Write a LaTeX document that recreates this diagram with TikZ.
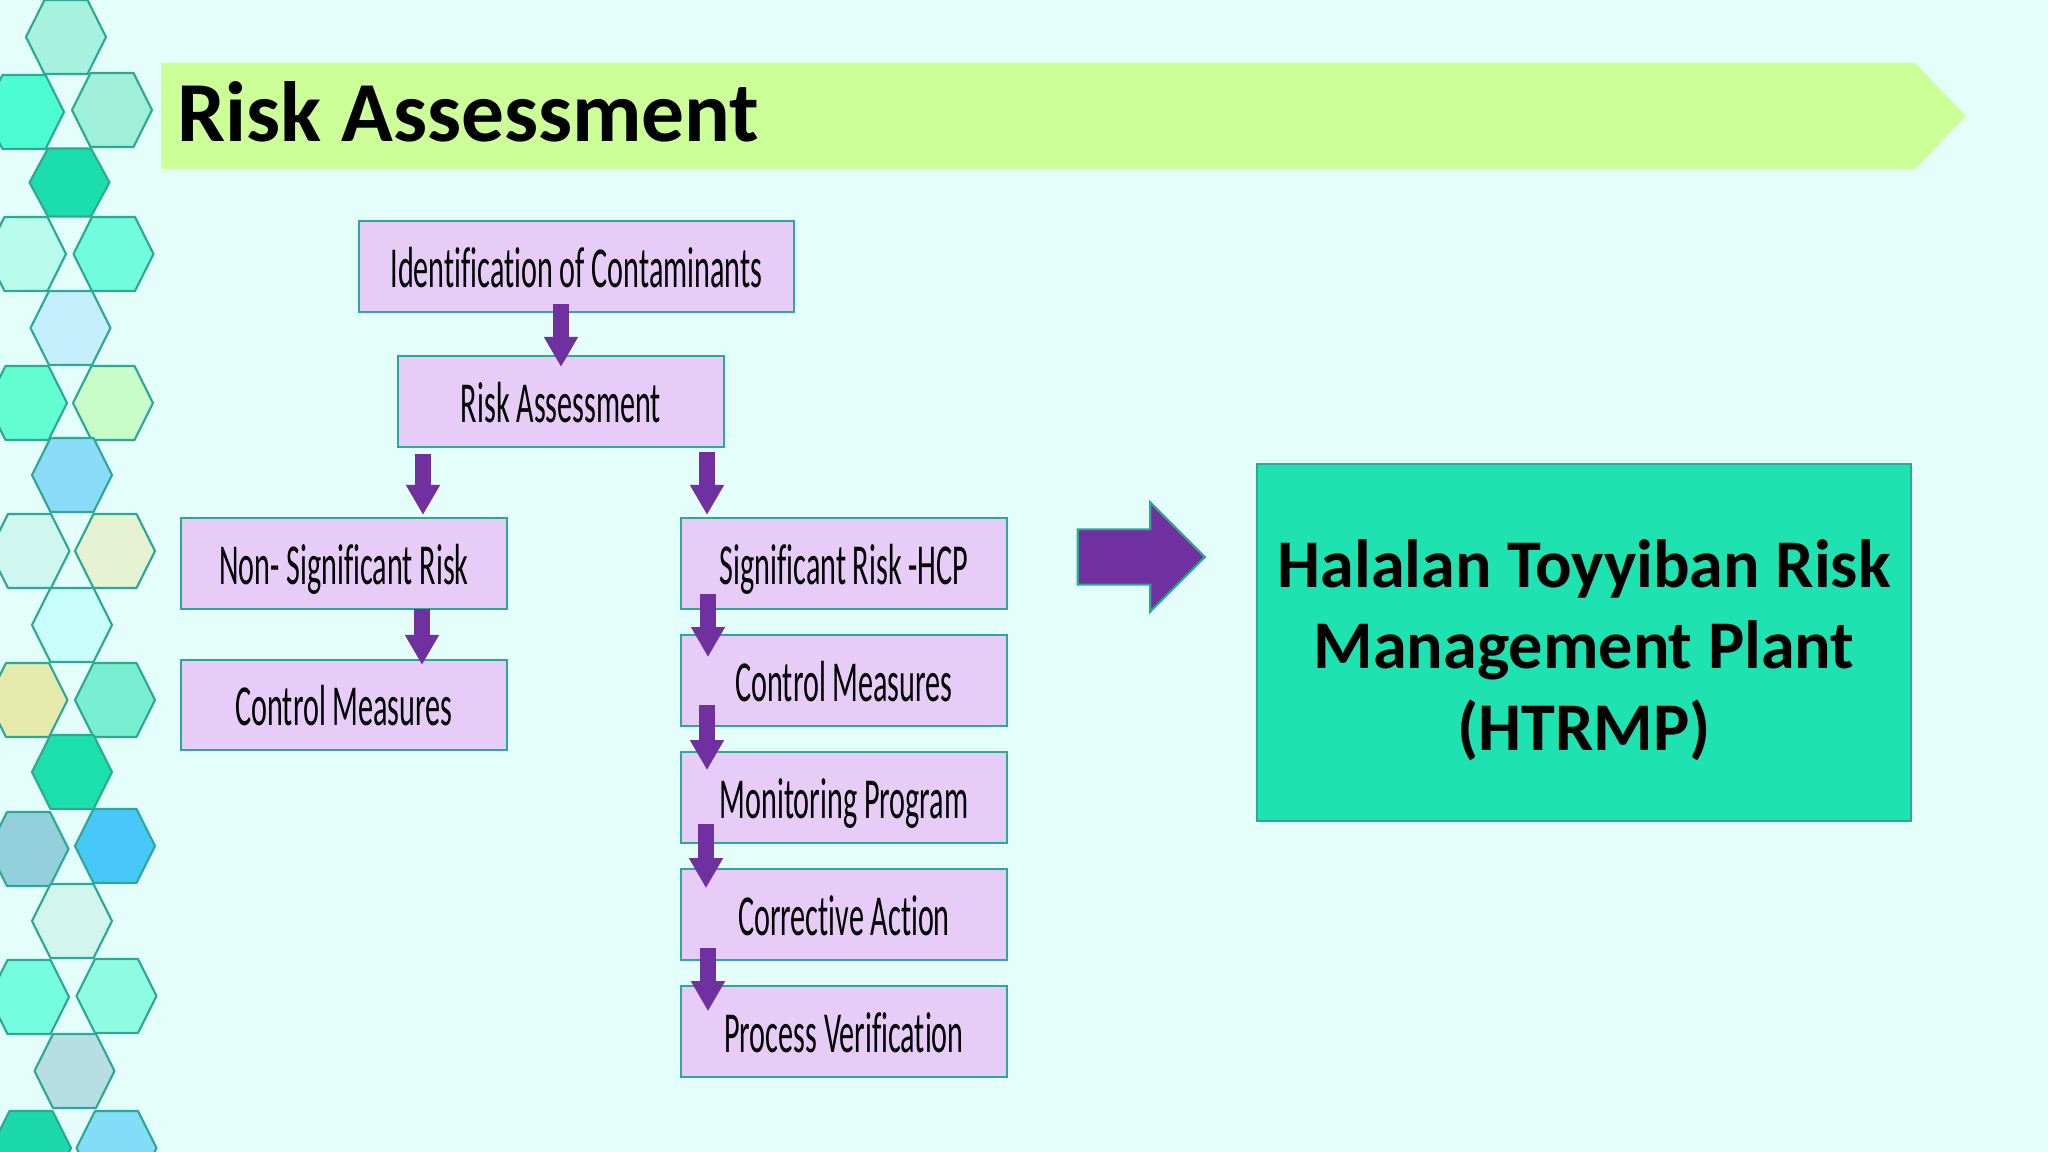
\documentclass[tikz,border=0pt]{standalone}
\usepackage{xcolor}
\usepackage{fontspec}
\usepackage{tikz}
\usetikzlibrary{arrows.meta,positioning,shapes.arrows}
\setmainfont{Carlito}
\newfontfamily\slimfont[FakeStretch=0.52,Ligatures=NoCommon]{Carlito}
\definecolor{slide}{HTML}{E4FEFA}
\definecolor{banner}{HTML}{CDFF99}
\definecolor{lilac}{HTML}{E6CCF6}
\definecolor{tealline}{HTML}{2CA896}
\definecolor{plum}{HTML}{7030A0}
\definecolor{mint}{HTML}{1EE2B0}
\tikzset{
  riskbox/.style={rectangle,draw=tealline,fill=lilac,line width=0.6pt,outer sep=0pt,
    minimum width=3.26cm,minimum height=0.91cm,inner sep=0pt,text height=0.5cm,text depth=0.09cm,
    font=\slimfont\fontsize{16.5}{18}\selectfont},
  flowarrow/.style={draw=plum,line width=0.16cm,-{Triangle[length=0.3cm,width=0.32cm]}},
  hexcell/.style={draw=tealline,line width=0.6pt,line join=round}
}
\begin{document}
\begin{tikzpicture}[x=0.01cm,y=-0.01cm,node distance=0.26cm]
\fill[slide] (0,0) rectangle (2048,1152);
\clip (0,0) rectangle (2048,1152);

% hexagon column
\foreach \cx/\cy/\hh/\col in {66/37/37/A6F2DE,24/112/37/4DFCD2,112/110/37/A0EFD9,69.5/182.5/34/1CDDAE,
  26/254/37/B9FCEE,113.5/254/37/70FCDD,70.5/328/37/C4EEFB,27/403/37/63FDD2,113/403/37/C8FDC9,
  72/475/37/8ADBF8,29.5/551/37/CFF7EF,115/551/37/E6F3D2,72/625/37/C8FEFC,27.5/700/37/E4EAAC,
  115/700/37/77EECF,72/772/37/1CE0AC,28.5/849/37/94D0DC,115/846/37/47C8F8,72/921/37/D2F6EE,
  29/997/37/76FDDF,116.5/996/37/8FFCE2,74.5/1071/37/B7DEE4,31/1148/37/1CD9AC,116.5/1148/37/84DDF8}{
  \definecolor{hexfill}{HTML}{\col}
  \draw[hexcell,fill=hexfill] (\cx-40,\cy) -- (\cx-21.5,\cy-\hh) -- (\cx+21.5,\cy-\hh)
    -- (\cx+40,\cy) -- (\cx+21.5,\cy+\hh) -- (\cx-21.5,\cy+\hh) -- cycle;
}

% title banner
\fill[banner] (161,63) -- (1915,63) -- (1966,116) -- (1915,169) -- (161,169) -- cycle;
\node[anchor=west,inner sep=0pt,font=\bfseries\fontsize{24.3}{28}\selectfont] (title) at (177,112) {Risk Assessment};

% left part
\node[riskbox,minimum width=4.35cm] (identify) at (576.5,266.5) {Identification of Contaminants};
\node[riskbox] (assess) at (561,401.5) {Risk Assessment};
\node[riskbox] (nonsig) at (344,563.5) {Non- Significant Risk};
\node[riskbox,minimum height=0.9cm] (controlA) at (344,705) {Control Measures};

% right column
\node[riskbox] (signif) at (844,563.5) {Significant Risk -HCP};
\node[riskbox] (controlB) [below = of signif] {Control Measures};
\node[riskbox] (monitor) [below = of controlB] {Monitoring Program};
\node[riskbox] (correct) [below = of monitor] {Corrective Action};
\node[riskbox] (verify) [below = of correct] {Process Verification};

\node[rectangle,draw=tealline,fill=mint,line width=0.6pt,minimum width=6.54cm,minimum height=3.57cm,
  inner sep=0pt,align=center,font=\bfseries\fontsize{19.4}{23.2}\selectfont] (htrmp) at (1584,642.5)
  {\rule{0pt}{18pt}Halalan Toyyiban Risk\\Management Plant\\(HTRMP)};

\draw[flowarrow] ([shift={(-15.5,-8)}]identify.south) -- ([shift={(0,11)}]assess.north);
\draw[flowarrow] ([shift={(-138,7)}]assess.south) -- ([shift={(79,-3)}]nonsig.north);
\draw[flowarrow] ([shift={(146,5)}]assess.south) -- ([shift={(-137,-3)}]signif.north);
\draw[flowarrow] ([shift={(78,0)}]nonsig.south) -- ([shift={(78,5)}]controlA.north);
\draw[flowarrow] ([shift={(-136,-15)}]signif.south) -- ([shift={(-136,22)}]controlB.north);
\draw[flowarrow] ([shift={(-137,-21)}]controlB.south) -- ([shift={(-137,18)}]monitor.north);
\draw[flowarrow] ([shift={(-138,-19)}]monitor.south) -- ([shift={(-138,19)}]correct.north);
\draw[flowarrow] ([shift={(-136,-12)}]correct.south) -- ([shift={(-136,25)}]verify.north);

\node[single arrow,draw=tealline,fill=plum,line width=0.6pt,inner xsep=0pt,inner ysep=0.265cm,
  minimum height=1.27cm,single arrow head extend=0.27cm,
  single arrow head indent=0cm] (bigarrow) at (1127.5,557) {};
\end{tikzpicture}
\end{document}
